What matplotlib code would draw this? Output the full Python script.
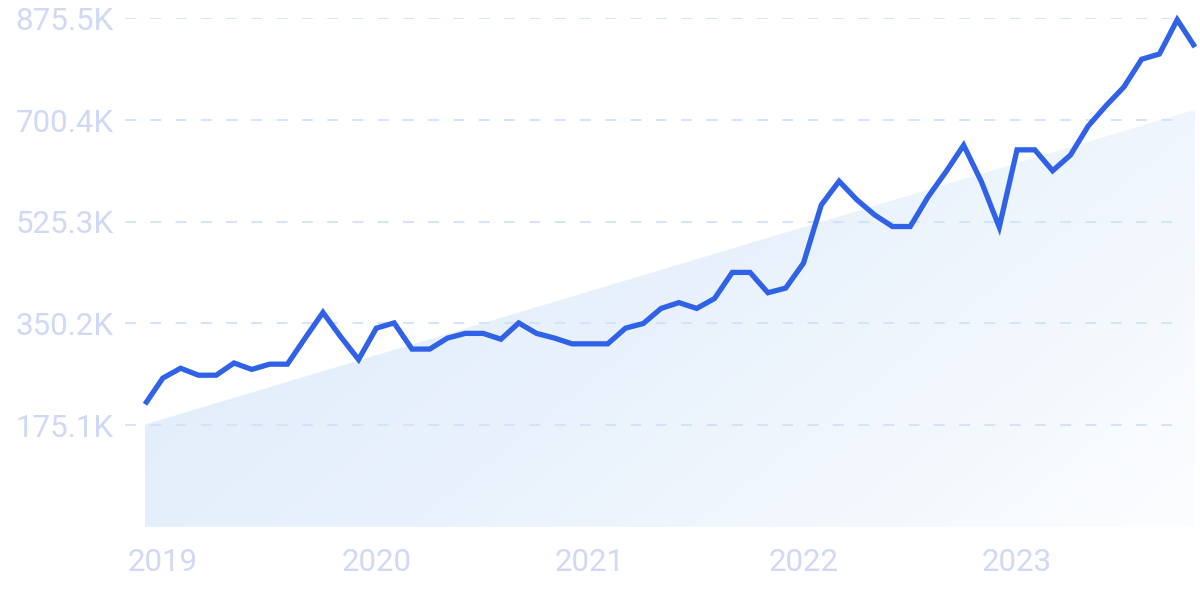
import numpy as np
import pandas as pd
import matplotlib
matplotlib.use("Agg")
import matplotlib.pyplot as plt
from matplotlib.colors import LinearSegmentedColormap
from matplotlib.patches import Polygon

# monthly values in thousands, Dec 2018 .. Nov 2023
months = pd.date_range("2018-12-01", periods=60, freq="MS")
values = [
    211, 256, 273, 261, 261, 282, 271, 280, 280, 325,
    369, 327, 288, 342, 351, 306, 306, 325, 333, 333,
    323, 351, 333, 325, 315, 315, 315, 342, 350, 376,
    386, 376, 393, 438, 438, 403, 411, 454, 554, 595,
    563, 537, 517, 517, 568, 611, 657, 594, 516, 649,
    649, 613, 640, 690, 725, 757, 805, 814, 873, 826,
]
trend_start = 176
trend_end = 718
y_ticks = [175.1, 350.2, 525.3, 700.4, 875.5]
y_labels = ["175.1K", "350.2K", "525.3K", "700.4K", "875.5K"]
x_years = [2019, 2020, 2021, 2022, 2023]

line_color = "#2F62E6"
text_color = "#CFD9F5"
grid_color = "#CFE2FB"

plt.rcParams["font.family"] = ["Roboto", "DejaVu Sans"]

fig = plt.figure(figsize=(12, 5.99), dpi=100)
ax = fig.add_axes([125 / 1200, (599 - 526.8) / 599, 1070 / 1200, (526.8 - 18.3) / 599])

x = np.arange(len(values))
px_per_month = 1050 / 59
ax.set_xlim(-20 / px_per_month, 59)
ax.set_ylim(0, 875.5)

# trend area with diagonal gradient
trend = np.linspace(trend_start, trend_end, len(values))
cmap = LinearSegmentedColormap.from_list("fade", ["#DEEBFA", "#E9F2FC", "#FCFDFF"])
gx, gy = np.meshgrid(np.linspace(0, 1, 400), np.linspace(0, 1, 200))
grad = (gx + (1 - gy) * 0.5) / 1.5
img = ax.imshow(grad, cmap=cmap, vmin=0, vmax=1, origin="lower", aspect="auto",
                extent=[x[0], x[-1], 0, trend_end], zorder=1)
poly = Polygon(np.column_stack([np.r_[x, x[::-1]], np.r_[trend, np.zeros(len(x))]]),
               closed=True, transform=ax.transData)
img.set_clip_path(poly)

for yt in y_ticks:
    ax.axhline(yt, xmin=0, xmax=(1183 - 125) / 1070, color=grid_color, lw=1.3,
               dashes=(6, 8), zorder=2)

ax.plot(x, values, color=line_color, lw=3.8, solid_joinstyle="miter",
        solid_capstyle="butt", zorder=3, clip_on=False)

ax.set_yticks(y_ticks)
ax.set_yticklabels(y_labels)
jan_idx = [list(months).index(pd.Timestamp(f"{yr}-01-01")) for yr in x_years]
ax.set_xticks(jan_idx)
ax.set_xticklabels([str(yr) for yr in x_years])
ax.tick_params(axis="both", length=0, labelsize=22.5, labelcolor=text_color)
ax.tick_params(axis="y", pad=8)
ax.tick_params(axis="x", pad=15)
for s in ax.spines.values():
    s.set_visible(False)

fig.savefig("out.png", dpi=100, facecolor="white")
